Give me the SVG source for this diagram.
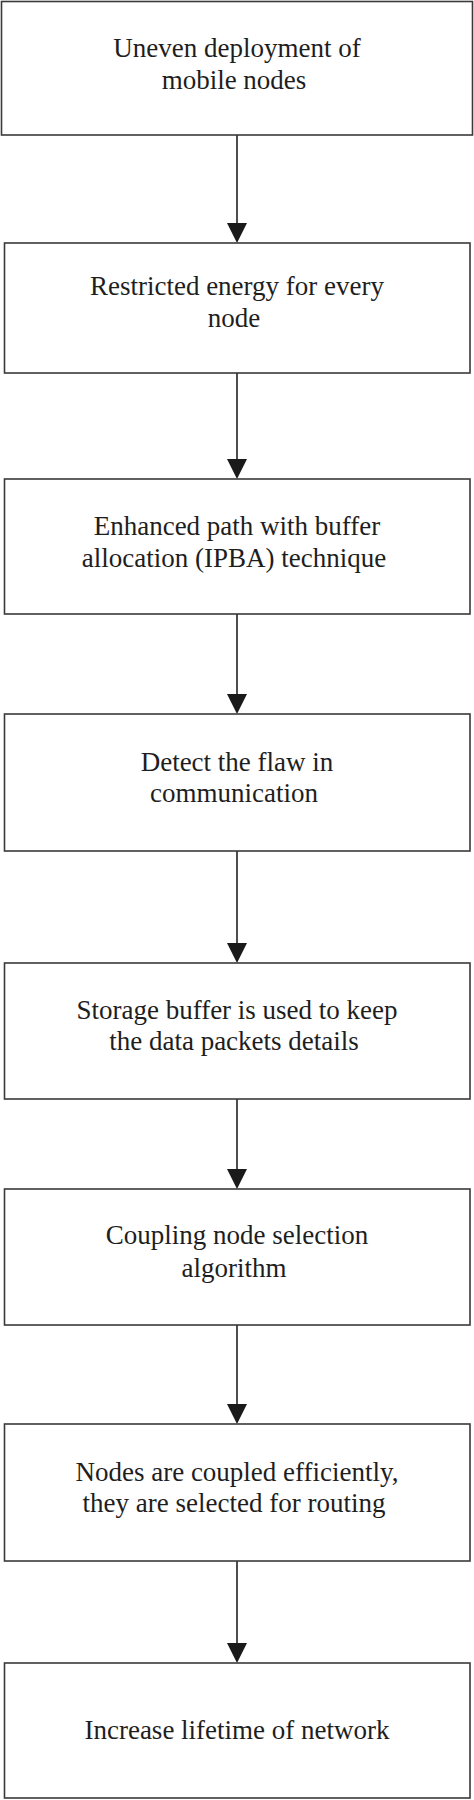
<svg xmlns="http://www.w3.org/2000/svg" width="474" height="1800" viewBox="0 0 474 1800">
<style>
.box{fill:#fff;stroke:#3a3a3a;stroke-width:1.6}
.t{font-family:"Liberation Serif","Times New Roman",serif;font-size:27px;fill:#1e1e1e;text-anchor:middle}
.c{stroke:#3a3a3a;stroke-width:1.8;fill:none}
.h{fill:#1a1a1a}
</style>
<rect width="474" height="1800" fill="#fff"/>
<g id="connectors">
<path class="c" d="M237,135 V223"/><path class="h" d="M227,223 L247,223 L237,243 Z"/>
<path class="c" d="M237,373 V459"/><path class="h" d="M227,459 L247,459 L237,479 Z"/>
<path class="c" d="M237,614 V694"/><path class="h" d="M227,694 L247,694 L237,714 Z"/>
<path class="c" d="M237,851 V943"/><path class="h" d="M227,943 L247,943 L237,963 Z"/>
<path class="c" d="M237,1099 V1169"/><path class="h" d="M227,1169 L247,1169 L237,1189 Z"/>
<path class="c" d="M237,1325 V1404"/><path class="h" d="M227,1404 L247,1404 L237,1424 Z"/>
<path class="c" d="M237,1561 V1643"/><path class="h" d="M227,1643 L247,1643 L237,1663 Z"/>
</g>
<g id="n1"><rect class="box" x="1.5" y="1.5" width="471" height="133.5"/>
<text class="t" x="237" y="57">Uneven deployment of</text><text class="t" x="234" y="88.5">mobile nodes</text></g>
<g id="n2"><rect class="box" x="4.5" y="243" width="465.5" height="130"/>
<text class="t" x="237" y="295">Restricted energy for every</text><text class="t" x="234" y="327">node</text></g>
<g id="n3"><rect class="box" x="4.5" y="479" width="465.5" height="135"/>
<text class="t" x="237" y="535">Enhanced path with buffer</text><text class="t" x="234" y="566.5">allocation (IPBA) technique</text></g>
<g id="n4"><rect class="box" x="4.5" y="714" width="465.5" height="137"/>
<text class="t" x="237" y="770.5">Detect the flaw in</text><text class="t" x="234" y="801.5">communication</text></g>
<g id="n5"><rect class="box" x="4.5" y="963" width="465.5" height="136"/>
<text class="t" x="237" y="1019">Storage buffer is used to keep</text><text class="t" x="234" y="1050">the data packets details</text></g>
<g id="n6"><rect class="box" x="4.5" y="1189" width="465.5" height="136"/>
<text class="t" x="237" y="1244">Coupling node selection</text><text class="t" x="234" y="1276.5">algorithm</text></g>
<g id="n7"><rect class="box" x="4.5" y="1424" width="465.5" height="137"/>
<text class="t" x="237" y="1481">Nodes are coupled efficiently,</text><text class="t" x="234" y="1511.5">they are selected for routing</text></g>
<g id="n8"><rect class="box" x="4.5" y="1663" width="465.5" height="135"/>
<text class="t" x="237" y="1739">Increase lifetime of network</text></g>
</svg>
